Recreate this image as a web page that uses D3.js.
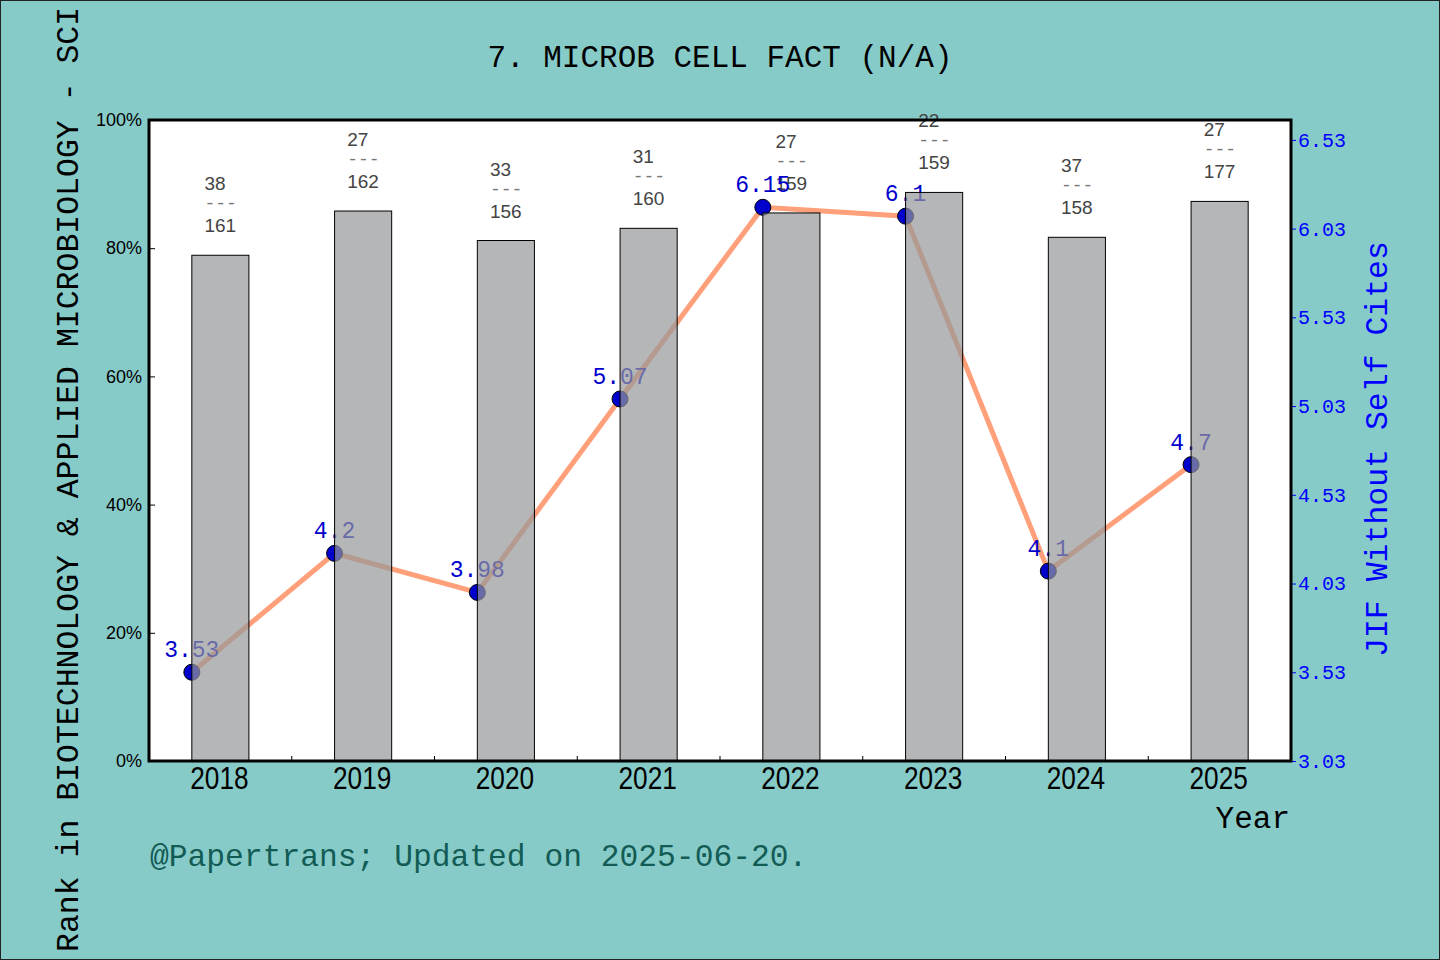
<!DOCTYPE html>
<html>
<head>
<meta charset="utf-8">
<script src="https://cdn.jsdelivr.net/npm/d3@7"></script>
<style>
  body { margin: 0; background: #87cbc9; }
  svg { display: block; }
</style>
</head>
<body>
<div id="chart"></div>
<script>
const years = ["2018", "2019", "2020", "2021", "2022", "2023", "2024", "2025"];
const rankPos = [38, 27, 33, 31, 27, 22, 37, 27];
const rankTotal = [161, 162, 156, 160, 159, 159, 158, 177];
const barPct = [78.9, 85.8, 81.2, 83.1, 85.5, 88.7, 81.7, 87.3];
const jif = [3.53, 4.2, 3.98, 5.07, 6.15, 6.1, 4.1, 4.7];
const pctTicks = [0, 20, 40, 60, 80, 100];
const jifTicks = [3.03, 3.53, 4.03, 4.53, 5.03, 5.53, 6.03, 6.53];
const jifDomain = [3.03, 6.642];

const W = 1440, H = 960;
const margin = {top: 120, right: 149, bottom: 199, left: 149},
      width = W - margin.left - margin.right,
      height = H - margin.top - margin.bottom;

const root = d3.select("#chart")
               .append("svg")
               .attr("width", W)
               .attr("height", H);

root.append("rect")
    .attr("x", 0.5).attr("y", 0.5)
    .attr("width", W - 1).attr("height", H - 1)
    .attr("fill", "#87cbc9")
    .attr("stroke", "#222");

const svg = root.append("g")
                .attr("transform", `translate(${margin.left},${margin.top})`);

const data = years.map((y, i) => ({year: y, pos: rankPos[i], total: rankTotal[i], pct: barPct[i], jif: jif[i]}));

const x = d3.scaleBand()
            .domain(years)
            .range([0, width])
            .paddingInner(0.6)
            .paddingOuter(0.3);

const y = d3.scaleLinear().domain([0, 100]).range([height, 0]);
const y2 = d3.scaleLinear().domain(jifDomain).range([height, 0]);

// plot background
svg.append("rect")
   .attr("width", width)
   .attr("height", height)
   .attr("fill", "white");

// rank labels above bars
const rl = svg.selectAll(".rank")
              .data(data)
              .enter()
              .append("g")
              .attr("class", "rank")
              .attr("transform", d => `translate(${x(d.year) + x.bandwidth() / 2 - 16},${y(d.pct)})`);
rl.append("text")
  .attr("y", -65)
  .style("font-family", "Liberation Sans, Arial, sans-serif")
  .style("font-size", "19px")
  .style("fill", "#444")
  .text(d => d.pos);
rl.append("text")
  .attr("y", -46)
  .style("font-family", "Liberation Mono, monospace")
  .style("font-size", "18px")
  .style("fill", "#777")
  .text("---");
rl.append("text")
  .attr("y", -23)
  .style("font-family", "Liberation Sans, Arial, sans-serif")
  .style("font-size", "19px")
  .style("fill", "#444")
  .text(d => d.total);

// JIF line
const line = d3.line()
               .x(d => x(d.year))
               .y(d => y2(d.jif));

svg.append("path")
   .datum(data)
   .attr("d", line)
   .attr("fill", "none")
   .attr("stroke", "#ffa07a")
   .attr("stroke-width", 5);

svg.selectAll(".dot")
   .data(data)
   .enter()
   .append("circle")
   .attr("class", "dot")
   .attr("cx", d => x(d.year))
   .attr("cy", d => y2(d.jif))
   .attr("r", 8)
   .attr("fill", "#0000cd")
   .attr("stroke", "black")
   .attr("stroke-width", 1);

svg.selectAll(".val")
   .data(data)
   .enter()
   .append("text")
   .attr("class", "val")
   .attr("x", d => x(d.year))
   .attr("y", d => y2(d.jif) - 15)
   .attr("text-anchor", "middle")
   .style("font-family", "Liberation Mono, monospace")
   .style("font-size", "23px")
   .style("fill", "#0000cd")
   .text(d => d.jif);

// bars drawn on top, semi transparent
svg.selectAll(".bar")
   .data(data)
   .enter()
   .append("rect")
   .attr("class", "bar")
   .attr("x", d => x(d.year))
   .attr("y", d => y(d.pct))
   .attr("width", x.bandwidth())
   .attr("height", d => height - y(d.pct))
   .attr("fill", "rgb(150,151,152)")
   .attr("fill-opacity", 0.7)
   .attr("stroke", "black")
   .attr("stroke-width", 1);

// left axis
const yAxis = svg.append("g")
   .call(d3.axisLeft(y).tickValues(pctTicks).tickFormat(d => d + "%").tickSize(-6).tickPadding(7).tickSizeOuter(0));
yAxis.select(".domain").remove();
yAxis.selectAll("text")
     .style("font-family", "Liberation Sans, Arial, sans-serif")
     .style("font-size", "18px")
     .style("fill", "black");

// right axis
const y2Axis = svg.append("g")
   .attr("transform", `translate(${width},0)`)
   .call(d3.axisRight(y2).tickValues(jifTicks).tickFormat(d3.format(".2f")).tickSize(5).tickPadding(2).tickSizeOuter(0));
y2Axis.select(".domain").remove();
y2Axis.selectAll("line").attr("stroke", "#0000ff");
y2Axis.selectAll("text")
      .style("font-family", "Liberation Mono, monospace")
      .style("font-size", "20px")
      .style("fill", "#0000ff");

// bottom axis, year labels in a condensed look
const xAxis = svg.append("g")
   .attr("transform", `translate(0,${height})`)
   .call(d3.axisBottom(x).tickSize(0).tickPadding(0));
xAxis.select(".domain").remove();
xAxis.selectAll(".tick").attr("transform", d => `translate(${x(d) + x.bandwidth() / 2 - 1},0)`);
xAxis.selectAll("text")
     .attr("dy", null)
     .attr("y", 28)
     .attr("transform", "scale(0.82,1)")
     .style("font-family", "Liberation Sans, Arial, sans-serif")
     .style("font-size", "32px")
     .style("fill", "black");

svg.selectAll(".sep")
   .data(years.slice(1))
   .enter()
   .append("line")
   .attr("class", "sep")
   .attr("x1", d => x(d) - x.step() * x.paddingOuter())
   .attr("x2", d => x(d) - x.step() * x.paddingOuter())
   .attr("y1", height)
   .attr("y2", height - 5)
   .attr("stroke", "black");

// frame
svg.append("rect")
   .attr("width", width)
   .attr("height", height)
   .attr("fill", "none")
   .attr("stroke", "black")
   .attr("stroke-width", 3);

// title and labels
root.append("text")
    .attr("x", 720).attr("y", 67)
    .attr("text-anchor", "middle")
    .style("font-family", "Liberation Mono, monospace")
    .style("font-size", "31px")
    .style("fill", "black")
    .text("7. MICROB CELL FACT (N/A)");

root.append("text")
    .attr("transform", "translate(78,952) rotate(-90)")
    .style("font-family", "Liberation Mono, monospace")
    .style("font-size", "31.5px")
    .style("fill", "black")
    .text("Rank in BIOTECHNOLOGY & APPLIED MICROBIOLOGY - SCI");

root.append("text")
    .attr("transform", "translate(1387,449) rotate(-90)")
    .attr("text-anchor", "middle")
    .style("font-family", "Liberation Mono, monospace")
    .style("font-size", "31.5px")
    .style("fill", "#0000ff")
    .text("JIF Without Self Cites");

root.append("text")
    .attr("x", 1290).attr("y", 828)
    .attr("text-anchor", "end")
    .style("font-family", "Liberation Mono, monospace")
    .style("font-size", "31px")
    .style("fill", "black")
    .text("Year");

root.append("text")
    .attr("x", 150).attr("y", 866)
    .style("font-family", "Liberation Mono, monospace")
    .style("font-size", "31.3px")
    .style("fill", "#135c55")
    .text("@Papertrans; Updated on 2025-06-20.");
</script>
</body>
</html>
